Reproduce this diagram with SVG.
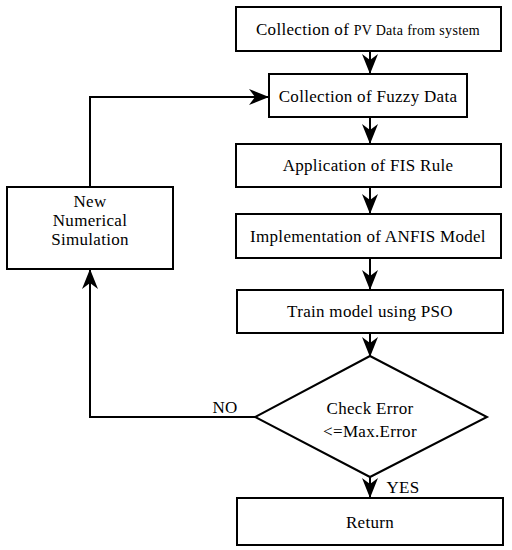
<svg xmlns="http://www.w3.org/2000/svg" width="512" height="550" viewBox="0 0 512 550">
<style>
.box{fill:#fff;stroke:#000;stroke-width:2}
.t{font-family:'Liberation Serif','Times New Roman','DejaVu Serif',serif;font-size:17px;fill:#000;text-anchor:middle;letter-spacing:0.3px}
.c{fill:none;stroke:#000;stroke-width:2}
</style>
<defs>
<marker id="ah" viewBox="0 0 20 16" refX="19" refY="8" markerWidth="20" markerHeight="16" markerUnits="userSpaceOnUse" orient="auto">
<path d="M0,0 L20,8 L0,16 L6,8 z" fill="#000"/>
</marker>
</defs>
<rect width="512" height="550" fill="#fff"/>
<g id="connectors">
<line class="c" x1="370" y1="51" x2="370" y2="73" marker-end="url(#ah)"/>
<line class="c" x1="370" y1="117" x2="370" y2="143" marker-end="url(#ah)"/>
<line class="c" x1="370" y1="187" x2="370" y2="213" marker-end="url(#ah)"/>
<line class="c" x1="370" y1="258" x2="370" y2="289" marker-end="url(#ah)"/>
<line class="c" x1="370" y1="333" x2="370" y2="356" marker-end="url(#ah)"/>
<line class="c" x1="370" y1="477" x2="370" y2="497" marker-end="url(#ah)"/>
<polyline class="c" points="90,187 90,97 268,97" marker-end="url(#ah)"/>
<polyline class="c" points="255,417 90,417 90,270" marker-end="url(#ah)"/>
<text class="t" x="225" y="413">NO</text>
<text class="t" x="403" y="493">YES</text>
</g>
<g id="n1"><rect class="box" x="236" y="7" width="265" height="44"/>
<text class="t" x="368" y="35">Collection of <tspan font-size="14">PV Data from system</tspan></text></g>
<g id="n2"><rect class="box" x="269" y="74" width="198" height="43"/>
<text class="t" x="368" y="102">Collection of Fuzzy Data</text></g>
<g id="n3"><rect class="box" x="236" y="144" width="265" height="43"/>
<text class="t" x="368" y="171">Application of FIS Rule</text></g>
<g id="n4"><rect class="box" x="236" y="214" width="265" height="44"/>
<text class="t" x="368" y="242">Implementation of ANFIS Model</text></g>
<g id="n5"><rect class="box" x="237" y="290" width="266" height="43"/>
<text class="t" x="370" y="317">Train model using PSO</text></g>
<g id="n6"><polygon class="box" points="370,356 487,417 370,477 255,417"/>
<text class="t" x="370" y="414">Check Error</text>
<text class="t" x="370" y="437">&lt;=Max.Error</text></g>
<g id="n7"><rect class="box" x="237" y="498" width="266" height="47"/>
<text class="t" x="370" y="528">Return</text></g>
<g id="n8"><rect class="box" x="7" y="187" width="166" height="82"/>
<text class="t" x="90" y="207" font-size="15">New</text>
<text class="t" x="90" y="226" font-size="15">Numerical</text>
<text class="t" x="90" y="245" font-size="15">Simulation</text></g>
</svg>
